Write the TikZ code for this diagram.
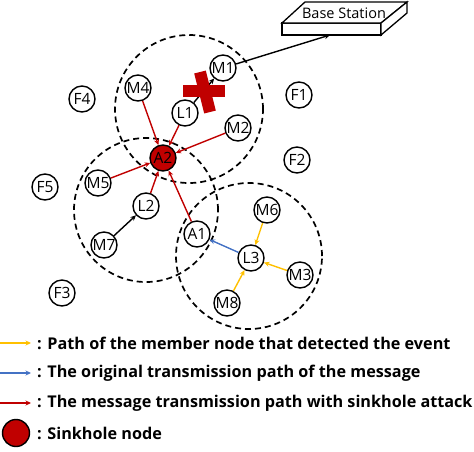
\documentclass[tikz,border=0pt]{standalone}
\usepackage{fontspec}
\setmainfont{Open Sans}
\usetikzlibrary{arrows.meta}
\definecolor{sred}{RGB}{192,0,0}
\definecolor{sblue}{RGB}{68,114,196}
\definecolor{syellow}{RGB}{255,192,0}
\begin{document}
\begin{tikzpicture}[x=1pt,y=-1pt,
  nd/.style={circle,draw=black,line width=1.4pt,fill=white,minimum size=26pt,inner sep=0pt,font=\fontsize{15.5}{15.5}\selectfont},
  zone/.style={draw=black,dashed,line width=1.7pt,dash pattern=on 6pt off 4pt},
  arr/.style={-{Stealth[length=5.5pt,width=5pt]},line width=1.4pt},
  lg/.style={anchor=west,font=\bfseries\fontsize{16.2}{17}\selectfont,inner sep=0pt}]
\useasboundingbox (0,0) rectangle (474,451);
% zones
\draw[zone] (189,109) circle (74pt);
\draw[zone] (146,210) circle (72pt);
\draw[zone] (249,256) circle (73pt);
% base station
\draw[line width=1.3pt,fill=white] (282,23) -- (381,23) -- (381,35) -- (282,35) -- cycle;
\draw[line width=1.3pt,fill=white] (282,23) -- (305,2) -- (407,2) -- (381,23) -- cycle;
\draw[line width=1.3pt,fill=white] (381,23) -- (407,2) -- (407,13) -- (381,35) -- cycle;
\node[font=\fontsize{14.5}{14.5}\selectfont,inner sep=0pt] (bs) at (344,13) {Base Station};
\coordinate (bsin) at (330,35);
% nodes
\node[nd] (M1) at (223,68) {M1};
\node[nd] (M4) at (138,88) {M4};
\node[nd] (L1) at (185,113) {L1};
\node[nd] (M2) at (238,128) {M2};
\node[nd] (F1) at (299,95) {F1};
\node[nd] (F4) at (82,99) {F4};
\node[nd] (F2) at (297,160) {F2};
\node[nd,fill=sred] (A2) at (163,158) {A2};
\node[nd] (M5) at (98,183) {M5};
\node[nd] (F5) at (45,187) {F5};
\node[nd] (L2) at (146,206) {L2};
\node[nd] (M7) at (104,245) {M7};
\node[nd] (A1) at (197,234) {A1};
\node[nd] (F3) at (62,293) {F3};
\node[nd] (L3) at (251,258) {L3};
\node[nd] (M6) at (267,210) {M6};
\node[nd] (M3) at (300,275) {M3};
\node[nd] (M8) at (227,303) {M8};
% arrows
\draw[arr] (M1) -- (bsin);
\draw[arr] (L1) -- (M1);
\fill[sred] (183,85) rectangle (225,97);
\draw[sred,line width=12pt] (200,72) -- (210,112);
\draw[arr,sred] (M4) -- (A2);
\draw[arr,sred] (L1) -- (A2);
\draw[arr,sred] (M2) -- (A2);
\draw[arr,sred] (M5) -- (A2);
\draw[arr,sred] (L2) -- (A2);
\draw[arr,sred] (A1) -- (A2);
\draw[arr] (M7) -- (L2);
\draw[arr,syellow] (M6) -- (L3);
\draw[arr,syellow] (M3) -- (L3);
\draw[arr,syellow] (M8) -- (L3);
\draw[arr,sblue] (L3) -- (A1);
% legend
\coordinate (y0) at (0,343);
\coordinate (y1) at (31,343);
\draw[arr,syellow] (y0) -- (y1);
\node[lg] (t1) at (37,343) {: Path of the member node that detected the event};
\coordinate (b0) at (0,373);
\coordinate (b1) at (31,373);
\draw[arr,sblue] (b0) -- (b1);
\node[lg] (t2) at (37,373) {: The original transmission path of the message};
\coordinate (r0) at (0,403);
\coordinate (r1) at (31,403);
\draw[arr,sred] (r0) -- (r1);
\node[lg] (t3) at (37,403) {: The message transmission path with sinkhole attack};
\node[circle,draw=black,line width=1.4pt,fill=sred,minimum size=27pt,inner sep=0pt] (sk) at (16,433) {};
\node[lg] (t4) at (37,433) {: Sinkhole node};
\end{tikzpicture}
\end{document}
